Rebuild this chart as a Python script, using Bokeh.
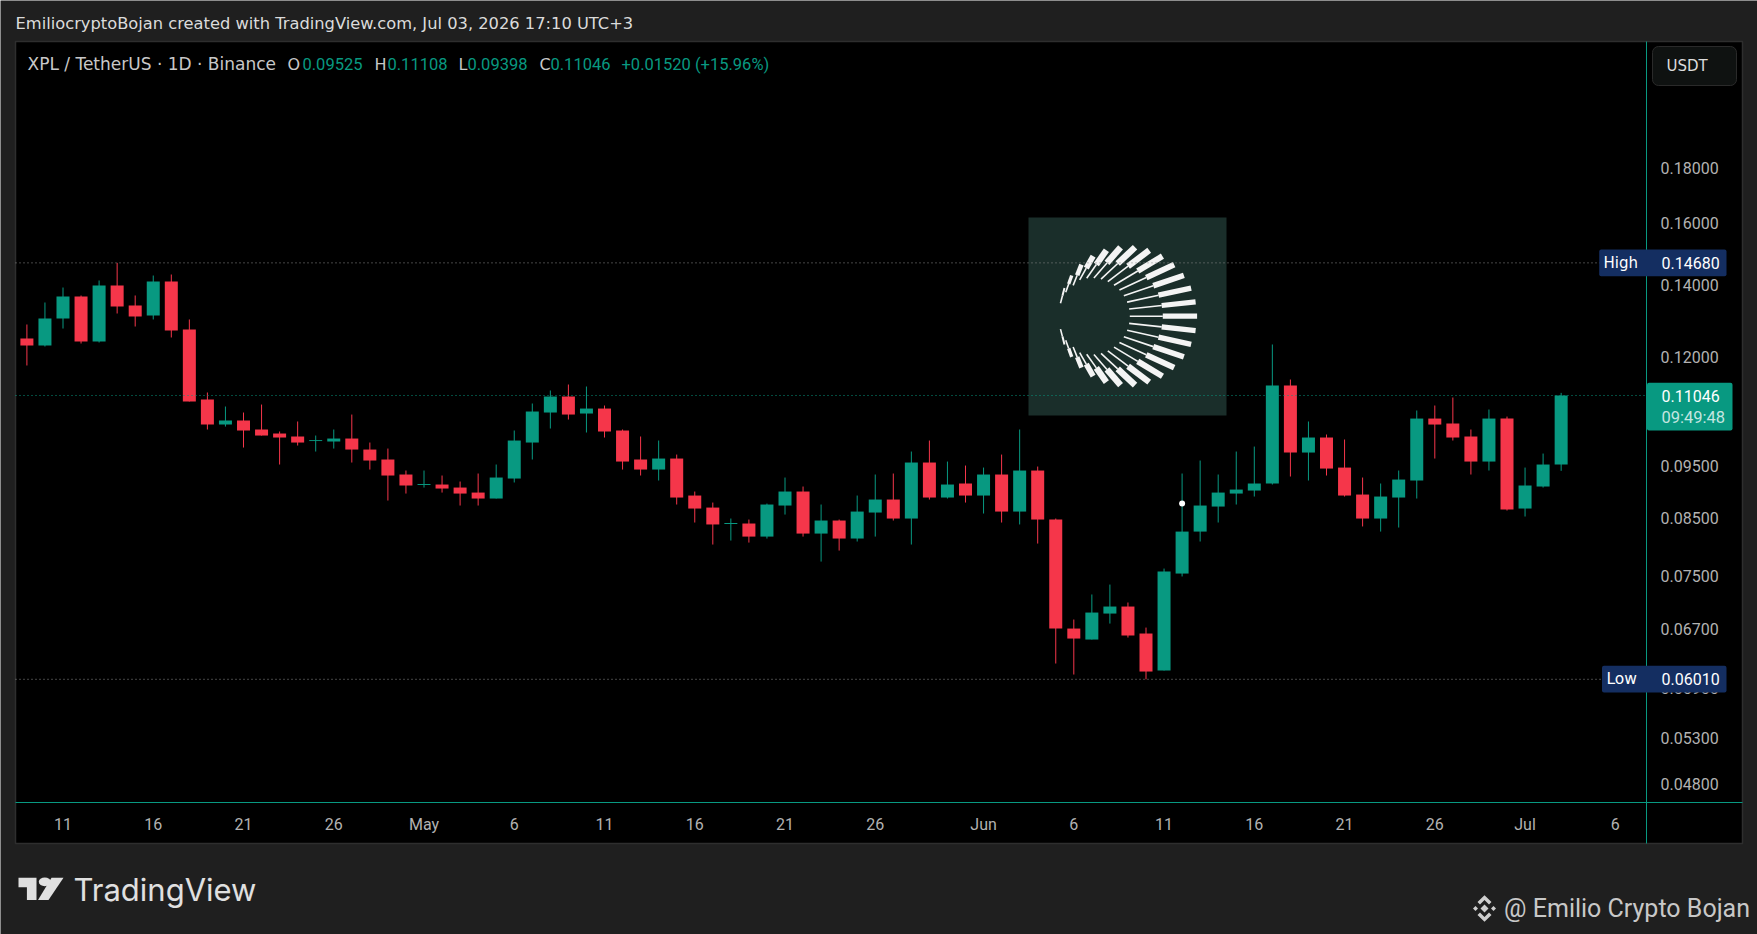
import math
from bokeh.plotting import figure
from bokeh.embed import file_html
from bokeh.resources import INLINE
from bokeh.models import (BoxAnnotation, ColumnDataSource, FixedTicker, Label,
                          PolyAnnotation)

# ---------- data ----------
opens = [.12482,.12295,.13030,.13659,.12402,.13985,.13397,.13113,.14106,.12725,
         .10951,.10379,.10469,.10269,.10181,.10116,.10018,.10008,.10072,.09837,
         .09629,.09324,.09117,.09126,.09067,.08970,.08856,.09244,.09986,.10650,
         .11022,.10627,.10741,.10247,.09629,.09424,.09649,.08913,.08686,.08385,
         .08394,.08162,.08724,.08990,.08215,.08448,.08128,.08594,.08837,.08484,
         .09567,.08875,.09146,.08913,.09324,.08612,.09404,.08466,.06701,.06545,
         .06920,.07025,.06630,.06124,.07540,.08250,.08705,.08951,.09009,.09146,
         .11285,.09774,.10094,.09464,.08932,.08484,.08875,.09205,.10513,.10402,
         .10116,.09587,.10513,.08668,.09087,.09525]
highs = [.12863,.13484,.13924,.13688,.14136,.14680,.13688,.14287,.14318,.13002,
         .11117,.10788,.10650,.10834,.10225,.10447,.10137,.10269,.10604,.09986,
         .09858,.09404,.09404,.09304,.09185,.09344,.09526,.10247,.10858,.11165,
         .11309,.11261,.10811,.10269,.10116,.10029,.09732,.08990,.08780,.08484,
         .08466,.08761,.09264,.09087,.08743,.08466,.08913,.09324,.09344,.09795,
         .10029,.09587,.09505,.09464,.09732,.10269,.09485,.08484,.06832,.07209,
         .07364,.07086,.06715,.07621,.09344,.09608,.09324,.09795,.09900,.12323,
         .11431,.10447,.10159,.10051,.09264,.09146,.09404,.10696,.10811,.10998,
         .10269,.10719,.10558,.09464,.09753,.11108]
lows = [.11780,.12269,.12752,.12349,.12375,.13170,.12807,.13002,.12509,.10905,
        .10269,.10334,.09879,.10137,.09526,.09922,.09795,.09858,.09567,.09424,
        .08818,.08951,.09067,.08970,.08724,.08724,.08856,.09166,.09629,.10291,
        .10491,.10203,.10094,.09424,.09304,.09205,.08743,.08412,.08024,.08093,
        .08058,.08128,.08557,.08162,.07736,.07921,.08076,.08162,.08448,.08024,
        .08837,.08856,.08780,.08576,.08412,.08377,.08041,.06217,.06072,.06545,
        .06773,.06573,.06010,.06124,.07493,.08076,.08412,.08743,.08894,.09126,
        .09284,.09205,.09304,.08894,.08341,.08250,.08322,.08856,.09649,.10029,
        .09324,.09404,.08631,.08521,.09067,.09398]
closes = [.12295,.13030,.13659,.12402,.13985,.13368,.13085,.14106,.12698,.10905,
          .10379,.10469,.10247,.10137,.10094,.09986,.10038,.10072,.09837,.09608,
          .09304,.09107,.09136,.09048,.08951,.08856,.09264,.10029,.10673,.11022,
          .10604,.10741,.10225,.09587,.09424,.09649,.08875,.08668,.08377,.08403,
          .08162,.08743,.08990,.08215,.08448,.08128,.08612,.08837,.08484,.09567,
          .08875,.09126,.08913,.09324,.08612,.09404,.08466,.06701,.06559,.06935,
          .07025,.06602,.06111,.07573,.08250,.08724,.08970,.09028,.09146,.11285,
          .09774,.10094,.09444,.08913,.08484,.08894,.09224,.10513,.10379,.10094,
          .09587,.10513,.08649,.09107,.09526,.11046]

price_ticks = [0.18, 0.16, 0.14, 0.12, 0.095, 0.085, 0.075, 0.067, 0.059, 0.053, 0.048]
date_ticks = [2, 7, 12, 17, 22, 27, 32, 37, 42, 47, 53, 58, 63, 68, 73, 78, 83, 88]
date_labels = ["11", "16", "21", "26", "May", "6", "11", "16", "21", "26",
               "Jun", "6", "11", "16", "21", "26", "Jul", "6"]
high_price, low_price, last_price = 0.1468, 0.0601, 0.11046
marker_day, marker_price = 64, 0.0876

UP, DOWN = "#089981", "#f5364a"
BG = "#1f1f1f"
W, H = 1757, 934

# ---------- geometry of the page ----------
PANE_L, PANE_T, AXIS_X, AXIS_Y, PANE_R, PANE_B = 15, 41, 1646, 802, 1742, 843
K0, DX = 26.4, 18.05


def fx(X):
    return X


def fy(Y):
    return H - Y


def data_x(X):
    return (X - K0) / DX


def data_y(Y):
    return 0.18 * math.exp(-(Y - 167.3) / 466.3)


p = figure(width=W, height=H, output_backend="svg", toolbar_location=None,
           y_axis_type="log", y_axis_location="right",
           x_range=(data_x(0), data_x(W)),
           y_range=(data_y(H), data_y(0)),
           min_border=0,
           background_fill_color=BG, border_fill_color=BG, outline_line_color=None)
p.grid.visible = False

AX_FONT = "Roboto"
AX_SIZE = "16px"
yax = p.yaxis[0]
yax.fixed_location = data_x(AXIS_X)
yax.ticker = FixedTicker(ticks=price_ticks)
yax.major_label_overrides = {t: f"{t:.5f}" for t in price_ticks}
yax.major_label_text_color = "#b2b2b2"
yax.major_label_text_font = AX_FONT
yax.major_label_text_font_size = AX_SIZE
yax.major_label_standoff = 8
yax.major_tick_line_color = None
yax.minor_tick_line_color = None
yax.axis_line_color = None

xax = p.xaxis[0]
xax.fixed_location = data_y(AXIS_Y)
xax.ticker = FixedTicker(ticks=date_ticks)
xax.major_label_overrides = dict(zip(date_ticks, date_labels))
xax.major_label_text_color = "#b2b2b2"
xax.major_label_text_font = AX_FONT
xax.major_label_text_font_size = AX_SIZE
xax.major_label_standoff = 6
xax.major_tick_line_color = None
xax.minor_tick_line_color = None
xax.axis_line_color = None


def box(l, r, t, b, fill, line=None, level="annotation", lw=1, radius=0, dash="solid"):
    a = BoxAnnotation(left=fx(l), right=fx(r), top=fy(t), bottom=fy(b),
                      left_units="screen", right_units="screen",
                      top_units="screen", bottom_units="screen",
                      fill_color=fill, fill_alpha=1.0 if fill else 0,
                      line_color=line, line_width=lw, line_alpha=1.0 if line else 0,
                      line_dash=dash, border_radius=radius, level=level, editable=False)
    p.add_layout(a)
    return a


def label(X, Y, text, color="#b2b2b2", size=14, align="left", font="DejaVu Sans", bold=False):
    p.add_layout(Label(x=fx(X), y=fy(Y), x_units="screen", y_units="screen", text=text,
                       text_color=color, text_font=font, text_font_size=f"{size}px",
                       text_align=align, text_baseline="middle",
                       text_font_style="bold" if bold else "normal"))


def poly(pts, color):
    p.add_layout(PolyAnnotation(xs=[fx(a) for a, _ in pts], ys=[fy(b) for _, b in pts],
                                xs_units="screen", ys_units="screen",
                                fill_color=color, fill_alpha=1, line_color=None))


# chart pane and its rules
box(PANE_L, PANE_R, PANE_T, PANE_B, "#000000", line="#2e2e2e", level="underlay", lw=1.5)

# logo tile in the middle of the chart
box(1028, 1226, 217, 415, "#1a2e2a", level="underlay")
CX_O, CX_I, CY, R_O, R_I = 1127.3, 1091.0, 315.7, 69.3, 38.3
spoke_w = [5.2, 5.2, 5.4, 5.6, 5.8, 6.0, 6.2, 6.4, 6.4, 6.2, 5.6, 4.6, 3.4, 2.0]
sliver = {11: (-8.3, 20.7), 12: (-6, 16.7), 13: (-4, 15.3)}
thin, thick = [], []
for i in range(-13, 14):
    n = abs(i)
    s = 1 if i >= 0 else -1
    ao, ai = math.radians(12 * n), math.radians(10.8 * n)
    ox, oy = CX_O + R_O * math.cos(ao), CY - s * R_O * math.sin(ao)
    if n in sliver:
        ix, iy = ox + sliver[n][0], oy + s * sliver[n][1]
    else:
        ix, iy = CX_I + R_I * math.cos(ai), CY - s * R_I * math.sin(ai)
    mx, my = ix + 0.49 * (ox - ix), iy + 0.49 * (oy - iy)
    thin.append((data_x(ix), data_y(iy), data_x(mx), data_y(my)))
    thick.append((data_x(mx), data_y(my), data_x(ox), data_y(oy), spoke_w[n]))
p.segment([t[0] for t in thin], [t[1] for t in thin], [t[2] for t in thin], [t[3] for t in thin],
          line_color="#f4f4f4", line_width=1.6)
p.segment([t[0] for t in thick], [t[1] for t in thick], [t[2] for t in thick], [t[3] for t in thick],
          line_color="#f4f4f4", line_width=[t[4] for t in thick])

# candles
days = list(range(len(opens)))
colors = [UP if c >= o else DOWN for o, c in zip(opens, closes)]
src = ColumnDataSource(dict(x=days, high=highs, low=lows,
                            top=[max(o, c) for o, c in zip(opens, closes)],
                            bottom=[min(o, c) for o, c in zip(opens, closes)],
                            color=colors))
p.segment("x", "high", "x", "low", source=src, line_color="color", line_width=1)
p.vbar("x", top="top", bottom="bottom", width=13 / DX, source=src, fill_color="color", line_color=None)
p.scatter([marker_day], [marker_price], size=6, marker="circle", fill_color="#ffffff", line_color=None)

# dotted price lines
line_y = [high_price, low_price, last_price]
p.segment([data_x(PANE_L)] * 3, line_y, [data_x(AXIS_X)] * 3, line_y,
          line_color=["#8a8a8a", "#8a8a8a", UP], line_width=1, line_dash="1 3")

# pane rules
box(PANE_L, PANE_R, AXIS_Y - 0.5, AXIS_Y + 0.5, UP)
box(AXIS_X - 0.5, AXIS_X + 0.5, PANE_T, PANE_B, UP)

# header
label(15, 22.5, "EmiliocryptoBojan created with TradingView.com, Jul 03, 2026 17:10 UTC+3", "#dbdbdb", 16.3)

# legend
GREY = "#c8c8c8"
NUM = "Roboto"
label(27, 63.5, "XPL / TetherUS · 1D · Binance", GREY, 17)
for X, t, c in [(287, "O", GREY), (374, "H", GREY), (458, "L", GREY), (539, "C", GREY)]:
    label(X, 63.5, t, c, 16)
for X, t in [(302, "0.09525"), (387, "0.11108"), (467, "0.09398"), (550, "0.11046"),
             (621, "+0.01520 (+15.96%)")]:
    label(X, 63.5, t, UP, 16.5, font=NUM)

# currency button
box(1652, 1736, 46, 85, "#0f1211", line="#2a2a2a", radius=6)
label(1666, 65, "USDT", "#dcdcdc", 15)

# price tags
box(1598.7, 1726, 249, 275.7, "#142e61", radius=2)
label(1603, 262.5, "High", "#ffffff", 15)
label(1661, 262.5, "0.14680", "#ffffff", 16, font=NUM)
box(1601.5, 1726, 665.3, 692, "#142e61", radius=2)
label(1606, 678.5, "Low", "#ffffff", 15.5)
label(1661, 678.5, "0.06010", "#ffffff", 16, font=NUM)
box(1646.5, 1732, 382.3, 430, UP, radius=2)
label(1661, 395.7, "0.11046", "#ffffff", 16, font=NUM)
label(1661, 416.7, "09:49:48", "#c4e6e0", 16.5, font=NUM)

# TradingView brand
LOGO = "#e0e0e0"
poly([(18, 877.3), (36, 877.3), (36, 899.5), (26.4, 899.5), (26.4, 886.7), (18, 886.7)], LOGO)
poly([(44.3 + 6 * math.cos(a / 8 * math.pi), 881.3 + 4.4 * math.sin(a / 8 * math.pi)) for a in range(16)], LOGO)
poly([(63, 877.3), (51, 877.3), (37.5, 899.5), (48, 899.5)], LOGO)
label(73, 889, "TradingView", LOGO, 31, font="Inter")

# author tag
ICON = "#cfcfcf"
cx, cy = 1484, 908
top_v = [(0, -13.3), (7, -6.5), (4.5, -4), (0, -8.5), (-4.5, -4), (-7, -6.5)]
poly([(cx + a, cy + b) for a, b in top_v], ICON)
poly([(cx + a, cy - b) for a, b in top_v], ICON)
poly([(cx, cy - 4), (cx + 4, cy), (cx, cy + 4), (cx - 4, cy)], ICON)
poly([(cx - 9, cy - 2.5), (cx - 6.5, cy), (cx - 9, cy + 2.5), (cx - 11.5, cy)], ICON)
poly([(cx + 9, cy - 2.5), (cx + 11.5, cy), (cx + 9, cy + 2.5), (cx + 6.5, cy)], ICON)
label(1503.6, 908, "@ Emilio Crypto Bojan", "#c8c8c8", 25, font="Roboto")

open("out.html", "w").write(file_html(p, INLINE))
